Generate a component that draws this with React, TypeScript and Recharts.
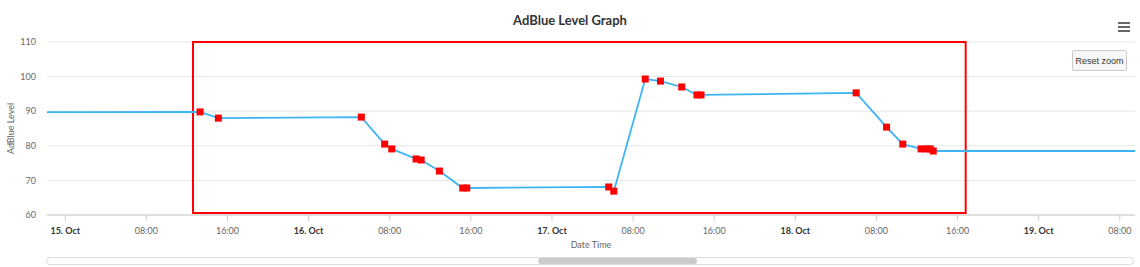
import React from 'react';
import {
  LineChart,
  Line,
  XAxis,
  YAxis,
  CartesianGrid,
  ReferenceArea,
} from 'recharts';

// hours counted from 15 Oct 00:00
const HOURS = [
  -10, 13.3, 15.1, 29.2, 31.5, 32.2, 34.6, 35.1, 36.9, 39.2, 39.6, 53.6, 54.1,
  57.2, 58.7, 60.8, 62.3, 62.7, 78.0, 81.0, 82.6, 84.4, 84.9, 85.3, 85.6, 115,
];
const LEVELS = [
  89.7, 89.8, 88.0, 88.3, 80.5, 79.1, 76.2, 75.9, 72.7, 67.8, 67.8, 68.1, 66.9,
  99.3, 98.7, 97.0, 94.7, 94.7, 95.3, 85.4, 80.5, 79.1, 79.1, 79.1, 78.5, 78.5,
];
const X_TICKS = [0, 8, 16, 24, 32, 40, 48, 56, 64, 72, 80, 88, 96, 104];
const Y_TICKS = [60, 70, 80, 90, 100, 110];
const SELECTION = { x1: 12.6, x2: 88.8, y1: 60.6, y2: 110 };

const data = HOURS.map((h, i) => ({ t: h, level: LEVELS[i] }));

const FONT = 'Lato, "Noto Sans", sans-serif';

function tickLabel(h: number) {
  if (h % 24 === 0) return `${15 + h / 24}. Oct`;
  const hh = h % 24;
  return `${hh < 10 ? '0' : ''}${hh}:00`;
}

function XTick(props: any) {
  const { x, y, payload } = props;
  const isDay = payload.value % 24 === 0;
  return (
    <text
      x={x}
      y={y}
      dy={9}
      textAnchor="middle"
      fontSize={9}
      fontFamily={FONT}
      fontWeight={isDay ? 700 : 400}
      fill={isDay ? '#333333' : '#666666'}
    >
      {tickLabel(payload.value)}
    </text>
  );
}

function Marker(props: any) {
  const { cx, cy, index } = props;
  if (cx == null || cy == null) return <g key={index} />;
  return (
    <rect key={index} x={cx - 3.5} y={cy - 3.5} width={7} height={7} fill="#ff0000" />
  );
}

export default function App() {
  return (
    <div
      style={{
        position: 'fixed',
        left: 0,
        top: 0,
        width: 1140,
        height: 267,
        background: '#fff',
        fontFamily: FONT,
      }}
    >
      <div
        style={{
          position: 'absolute',
          top: 12,
          left: 0,
          width: 1140,
          textAlign: 'center',
          fontSize: 13,
          fontWeight: 700,
          color: '#333333',
        }}
      >
        AdBlue Level Graph
      </div>
      <LineChart
        width={1140}
        height={267}
        data={data}
        margin={{ top: 42, right: 5, bottom: 22, left: 0 }}
      >
        <CartesianGrid vertical={false} stroke="#e6e6e6" />
        <XAxis
          dataKey="t"
          type="number"
          domain={[-1.8, 105.5]}
          allowDataOverflow
          ticks={X_TICKS}
          tick={<XTick />}
          height={30}
          stroke="#cccccc"
          tickSize={6}
          tickMargin={4}
          label={{
            value: 'Date Time',
            position: 'insideBottom',
            offset: -3,
            fontSize: 9,
            fill: '#666666',
            fontFamily: FONT,
          }}
        />
        <YAxis
          type="number"
          domain={[60, 110]}
          ticks={Y_TICKS}
          allowDataOverflow
          width={47}
          axisLine={false}
          tickLine={false}
          tickSize={0}
          tickMargin={11}
          tick={{ fontSize: 9, fill: '#666666', fontFamily: FONT }}
          label={{
            value: 'AdBlue Level',
            angle: -90,
            position: 'insideLeft',
            offset: 11,
            fontSize: 9,
            fill: '#666666',
            fontFamily: FONT,
            style: { textAnchor: 'middle' },
          }}
        />
        <ReferenceArea
          x1={SELECTION.x1}
          x2={SELECTION.x2}
          y1={SELECTION.y1}
          y2={SELECTION.y2}
          fill="none"
          fillOpacity={0}
          stroke="#ff0000"
          strokeWidth={2}
          ifOverflow="extendDomain"
        />
        <Line
          dataKey="level"
          type="linear"
          stroke="#3db5f5"
          strokeWidth={1.8}
          dot={<Marker />}
          activeDot={false}
          isAnimationActive={false}
        />
      </LineChart>
      {/* menu icon */}
      <div style={{ position: 'absolute', left: 1118, top: 22 }}>
        {[0, 1, 2].map((i) => (
          <div
            key={i}
            style={{ width: 12, height: 2, background: '#666', marginBottom: 2 }}
          />
        ))}
      </div>
      {/* reset zoom button */}
      <div
        style={{
          position: 'absolute',
          left: 1072,
          top: 50,
          width: 55,
          height: 21,
          background: '#f7f7f7',
          border: '1px solid #cccccc',
          borderRadius: 2,
          fontSize: 9,
          color: '#333',
          fontFamily: '"Liberation Sans", Arial, sans-serif',
          lineHeight: '21px',
          textAlign: 'center',
          boxSizing: 'border-box',
        }}
      >
        Reset zoom
      </div>
      {/* scrollbar */}
      <div
        style={{
          position: 'absolute',
          left: 46,
          top: 257,
          width: 1088,
          height: 8,
          border: '1px solid #dddddd',
          borderRadius: 5,
          boxSizing: 'border-box',
          background: '#fff',
        }}
      />
      <div
        style={{
          position: 'absolute',
          left: 538,
          top: 258,
          width: 159,
          height: 6,
          borderRadius: 3,
          background: '#cccccc',
        }}
      />
    </div>
  );
}
